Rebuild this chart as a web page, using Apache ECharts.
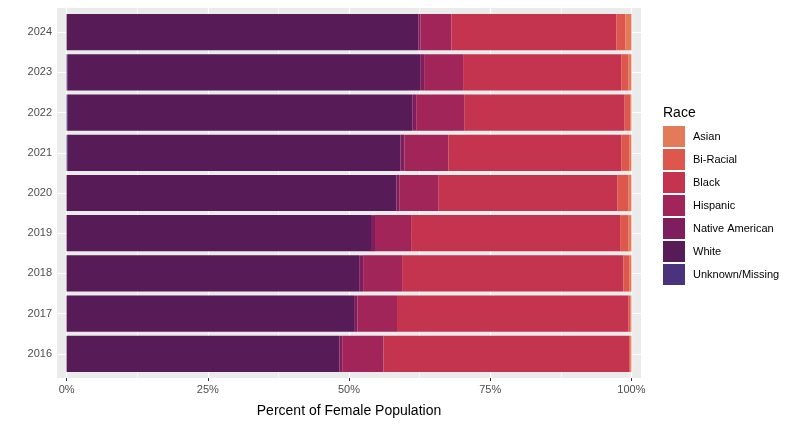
<!DOCTYPE html>
<html>
<head>
<meta charset="utf-8">
<script src="https://cdn.jsdelivr.net/npm/echarts@6/dist/echarts.min.js"></script>
<style>html,body{margin:0;padding:0;background:#fff}#c{width:800px;height:425px}</style>
</head>
<body>
<div id="c"></div>
<script>
const years = ['2016','2017','2018','2019','2020','2021','2022','2023','2024'];
// percent of female population, 2016..2024
const unknownMissing = [0, 0, 0, 0, 0, 0.2, 0.2, 0.2, 0];
const white = [48.3, 50.9, 51.8, 53.9, 58.4, 58.9, 61.0, 62.4, 62.3];
const nativeAmerican = [0.5, 0.6, 0.7, 0.7, 0.5, 0.7, 0.7, 0.7, 0.35];
const hispanic = [7.3, 7.0, 6.9, 6.4, 6.9, 7.8, 8.5, 6.9, 5.5];
const black = [43.5, 41.0, 39.2, 37.0, 31.7, 30.6, 28.4, 28.0, 29.2];
const biRacial = [0.2, 0.3, 1.0, 1.5, 2.0, 1.4, 1.0, 1.3, 1.6];
const asian = [0.2, 0.2, 0.4, 0.5, 0.5, 0.4, 0.2, 0.5, 1.05];
const xTicks = [0, 25, 50, 75, 100];
const xMinor = [12.5, 37.5, 62.5, 87.5];
const legendOrder = ['Asian','Bi-Racial','Black','Hispanic','Native American','White','Unknown/Missing'];

const stackSeries = [
  ['Unknown/Missing', unknownMissing, '#4B327D'],
  ['White', white, '#571B57'],
  ['Native American', nativeAmerican, '#7E1E5E'],
  ['Hispanic', hispanic, '#A12558'],
  ['Black', black, '#C4344F'],
  ['Bi-Racial', biRacial, '#DD574C'],
  ['Asian', asian, '#E37B5A']
];

const series = stackSeries.map(([name, data, color]) => ({
  name, type: 'bar', stack: 'total', data,
  xAxisIndex: 1, yAxisIndex: 1,
  barCategoryGap: '10%',
  itemStyle: { color },
  z: 2,
  emphasis: { disabled: true }
}));

const vLines = [];
xTicks.forEach(v => vLines.push({ xAxis: v, lineStyle: { width: 1.2 } }));
xMinor.forEach(v => vLines.push({ xAxis: v, lineStyle: { width: 0.6 } }));
const hLines = years.map((y, i) => ({ yAxis: i, lineStyle: { width: 1.2 } }));

const ml = (data) => ({
  silent: true, symbol: 'none', z: 1, animation: false,
  label: { show: false },
  lineStyle: { color: '#FFFFFF', type: 'solid' },
  data
});

series.push({ name: 'vgrid', type: 'line', data: [], z: 1, xAxisIndex: 0, yAxisIndex: 0, markLine: ml(vLines) });
series.push({ name: 'hgrid', type: 'line', data: [], z: 1, xAxisIndex: 1, yAxisIndex: 1, markLine: ml(hLines) });

const font = 'Liberation Sans';
const chart = echarts.init(document.getElementById('c'));
chart.setOption({
  animation: false,
  title: {
    text: 'Race', left: 663, top: 106, padding: 0,
    textStyle: { fontFamily: font, fontSize: 14, fontWeight: 'normal', color: '#000' }
  },
  legend: {
    data: legendOrder, orient: 'vertical', left: 663, top: 126, padding: 0,
    itemWidth: 22, itemHeight: 21, itemGap: 2, icon: 'rect',
    textStyle: { fontFamily: font, fontSize: 11, color: '#000', padding: [0, 0, 0, 3] },
    selectedMode: false
  },
  grid: [
    { left: 57, right: 159, top: 8, bottom: 47, show: true, backgroundColor: '#EBEBEB', borderWidth: 0 },
    { left: 57, right: 159, top: 12, bottom: 51, show: false }
  ],
  xAxis: [
    {
      gridIndex: 0, type: 'value', min: -1.7, max: 101.7,
      name: 'Percent of Female Population', nameLocation: 'middle', nameGap: 26,
      nameTextStyle: { fontFamily: font, fontSize: 14, color: '#000' },
      axisLine: { show: false },
      axisTick: { show: true, length: 3, customValues: xTicks, lineStyle: { color: '#333333' } },
      axisLabel: { customValues: xTicks, formatter: '{value}%', fontFamily: font, fontSize: 11, color: '#4D4D4D', margin: 6 },
      splitLine: { show: false }
    },
    {
      gridIndex: 1, type: 'value', min: -1.7, max: 101.7,
      axisLine: { show: false }, axisTick: { show: false }, axisLabel: { show: false }, splitLine: { show: false }
    }
  ],
  yAxis: [
    {
      gridIndex: 0, type: 'value', min: 0, max: 1,
      axisLine: { show: false }, axisTick: { show: false }, axisLabel: { show: false }, splitLine: { show: false }
    },
    {
      gridIndex: 1, type: 'category', data: years,
      axisLine: { show: false },
      axisTick: { show: true, length: 3, alignWithLabel: true, lineStyle: { color: '#333333' } },
      axisLabel: { fontFamily: font, fontSize: 11, color: '#4D4D4D', margin: 5 },
      splitLine: { show: false }
    }
  ],
  series
});
</script>
</body>
</html>
